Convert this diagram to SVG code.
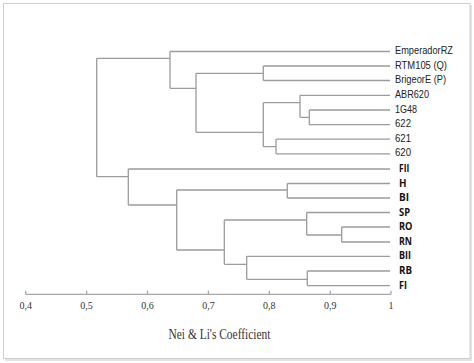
<svg xmlns="http://www.w3.org/2000/svg" width="474" height="363" viewBox="0 0 474 363">
<style>
.br{fill:none;stroke:#9c9c9c;stroke-width:1.3}
.ax{fill:none;stroke:#a8a8a8;stroke-width:1.3}
.lt{font-family:"Liberation Sans",Arial,sans-serif;font-size:11.5px;fill:#222}
.lb{font-family:"Open Sans","DejaVu Sans",sans-serif;font-size:10.5px;font-weight:bold;fill:#111}
.tk{font-family:"Liberation Serif","Times New Roman",serif;font-size:10px;fill:#333;text-anchor:middle}
.ti{font-family:"Liberation Serif","Times New Roman",serif;font-size:14px;fill:#333}
</style>
<rect x="5" y="5" width="467" height="356" fill="#e4e4e4"/>
<rect x="3.5" y="3.5" width="466.5" height="355" fill="#fff" stroke="#cfcfcf" stroke-width="1"/>
<g id="connectors" class="br">
<path d="M170 51.5H390M263.3 66H390M263.3 80.5H390M300 95.3H390M309.3 110H390M309.3 124.7H390M276 139.2H390M276 153.8H390"/>
<path d="M128.3 169H390M287.3 183.5H390M287.3 198H390M306.7 212.5H390M341.7 227H390M341.7 242H390M246.7 256.3H390M307.3 271H390M307.3 285.7H390"/>
<path d="M170 51.5V88.3M196 73.3V132.3M263.3 66V80.5M263.3 102.7V146.7M300 95.3V117.3M309.3 110V124.7M276 139.2V153.8M96.7 58.3V176.7M128.3 169V205M176.7 190V250M287.3 183.5V198M224.3 220V264.3M306.7 212.5V235M341.7 227V242M246.7 256.3V279.3M307.3 271V285.7"/>
<path d="M96.7 58.3H170M170 88.3H196M196 73.3H263.3M196 132.3H263.3M263.3 102.7H300M300 117.3H309.3M263.3 146.7H276M96.7 176.7H128.3M128.3 205H176.7M176.7 190H287.3M176.7 250H224.3M224.3 220H306.7M306.7 235H341.7M224.3 264.3H246.7M246.7 279.3H307.3"/>
</g>
<g id="leaf-EmperadorRZ"><text class="lt" x="395" y="54" textLength="58" lengthAdjust="spacingAndGlyphs">EmperadorRZ</text></g>
<g id="leaf-RTM105"><text class="lt" x="395" y="68.5" textLength="52" lengthAdjust="spacingAndGlyphs">RTM105 (Q)</text></g>
<g id="leaf-BrigeorE"><text class="lt" x="395" y="83" textLength="51" lengthAdjust="spacingAndGlyphs">BrigeorE (P)</text></g>
<g id="leaf-ABR620"><text class="lt" x="395" y="97.8" textLength="34" lengthAdjust="spacingAndGlyphs">ABR620</text></g>
<g id="leaf-1G48"><text class="lt" x="395" y="112.5" textLength="22" lengthAdjust="spacingAndGlyphs">1G48</text></g>
<g id="leaf-622"><text class="lt" x="395" y="127.2" textLength="16" lengthAdjust="spacingAndGlyphs">622</text></g>
<g id="leaf-621"><text class="lt" x="395" y="141.7" textLength="16" lengthAdjust="spacingAndGlyphs">621</text></g>
<g id="leaf-620"><text class="lt" x="395" y="156.3" textLength="16" lengthAdjust="spacingAndGlyphs">620</text></g>
<g id="leaf-FII"><text class="lb" x="399" y="172" textLength="10.3" lengthAdjust="spacingAndGlyphs">FII</text></g>
<g id="leaf-H"><text class="lb" x="399" y="186.5" textLength="7.5" lengthAdjust="spacingAndGlyphs">H</text></g>
<g id="leaf-BI"><text class="lb" x="399" y="201" textLength="10" lengthAdjust="spacingAndGlyphs">BI</text></g>
<g id="leaf-SP"><text class="lb" x="399" y="215.5" textLength="11" lengthAdjust="spacingAndGlyphs">SP</text></g>
<g id="leaf-RO"><text class="lb" x="399" y="230" textLength="13.5" lengthAdjust="spacingAndGlyphs">RO</text></g>
<g id="leaf-RN"><text class="lb" x="399" y="245" textLength="13" lengthAdjust="spacingAndGlyphs">RN</text></g>
<g id="leaf-BII"><text class="lb" x="399" y="259.3" textLength="12" lengthAdjust="spacingAndGlyphs">BII</text></g>
<g id="leaf-RB"><text class="lb" x="399" y="274" textLength="13" lengthAdjust="spacingAndGlyphs">RB</text></g>
<g id="leaf-FI"><text class="lb" x="399" y="288.7" textLength="8" lengthAdjust="spacingAndGlyphs">FI</text></g>
<g id="axis">
<path class="ax" d="M25.7 294.3H391M25.7 290.8V294.3M86.6 290.8V294.3M147.5 290.8V294.3M208.4 290.8V294.3M269.3 290.8V294.3M330.2 290.8V294.3M391 290.8V294.3"/>
<text class="tk" x="25.7" y="308.5">0,4</text>
<text class="tk" x="86.6" y="308.5">0,5</text>
<text class="tk" x="147.5" y="308.5">0,6</text>
<text class="tk" x="208.4" y="308.5">0,7</text>
<text class="tk" x="269.3" y="308.5">0,8</text>
<text class="tk" x="330.2" y="308.5">0,9</text>
<text class="tk" x="391" y="308.5">1</text>
<text class="ti" x="168.5" y="339" textLength="102" lengthAdjust="spacingAndGlyphs">Nei &amp; Li's Coefficient</text>
</g>
</svg>
